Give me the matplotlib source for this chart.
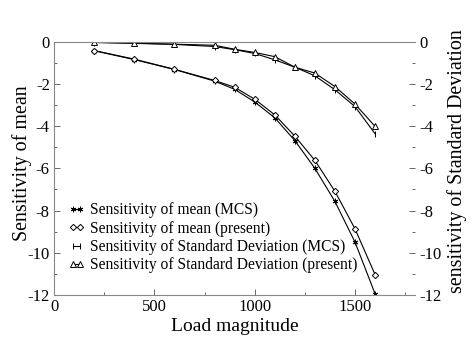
import matplotlib.pyplot as plt
import numpy as np

plt.rcParams['font.family'] = ['Liberation Serif', 'DejaVu Serif']
plt.rcParams['axes.unicode_minus'] = False

load_mean = [200, 400, 600, 800, 900, 1000, 1100, 1200, 1300, 1400, 1500, 1600]
mean_mcs = [-0.42, -0.84, -1.31, -1.86, -2.25, -2.85, -3.6, -4.68, -6.0, -7.57, -9.5, -11.95]
mean_present = [-0.41, -0.82, -1.3, -1.83, -2.15, -2.72, -3.46, -4.47, -5.62, -7.09, -8.87, -11.04]

load_std = [200, 400, 600, 800, 900, 1000, 1100, 1200, 1300, 1400, 1500, 1600]
std_mcs = [-0.03, -0.07, -0.12, -0.22, -0.37, -0.55, -0.85, -1.2, -1.61, -2.27, -3.07, -4.36]
std_present = [-0.02, -0.06, -0.11, -0.16, -0.35, -0.5, -0.7, -1.2, -1.48, -2.12, -2.95, -4.01]

fig = plt.figure(figsize=(4.74, 3.49), dpi=100)
ax = fig.add_axes([0.114, 0.155, 0.762, 0.725])
ax2 = ax.twinx()

lw = 0.8
ax.plot(load_mean, mean_mcs, color='black', lw=lw, marker=(6, 2, 0), ms=4, mew=0.7,
        label='Sensitivity of mean (MCS)')
ax.plot(load_mean, mean_present, color='black', lw=lw, marker='D', ms=3.2, mfc='white', mew=0.7,
        label='Sensitivity of mean (present)')
ax.plot(load_std, std_mcs, color='black', lw=lw, marker='|', ms=4, mew=0.7,
        label='Sensitivity of Standard Deviation (MCS)')
ax.plot(load_std, std_present, color='black', lw=lw, marker='^', ms=4, mfc='white', mew=0.7,
        label='Sensitivity of Standard Deviation (present)')

ax.set_xlim(0, 1800)
ax.set_ylim(-12, 0)
ax.set_xticks([0, 500, 1000, 1500])
ax.set_xticks([250, 750, 1250, 1750], minor=True)
ax.set_yticks(np.arange(-12, 1, 2))
ax.set_yticks(np.arange(-11, 0, 2), minor=True)

for s in ['left', 'top', 'bottom']:
    ax.spines[s].set_color('#888888')
ax.spines['right'].set_visible(False)

ax.tick_params(direction='in', length=4, width=0.7, color='#666666', labelsize=12,
               left=True, right=True, labelleft=True, labelright=True, pad=3)
ax.tick_params(which='minor', direction='in', length=2, width=0.7, color='#666666',
               left=True, right=True)

ax.set_xlabel('Load magnitude', fontsize=14, labelpad=2)
ax.set_ylabel('Sensitivity of mean', fontsize=14.4)
ax.yaxis.set_label_coords(-0.06, 0.52)

ax2.set_ylim(-12, 0)
ax2.set_yticks([])
for s in ax2.spines.values():
    s.set_visible(False)
ax2.set_ylabel('sensitivity of Standard Deviation', fontsize=14.4)
ax2.yaxis.set_label_coords(1.088, 0.53)

ax.legend(loc='lower left', bbox_to_anchor=(0.0, 0.03), frameon=False, fontsize=11.2,
          handlelength=1.1, handletextpad=0.3, labelspacing=0.15, numpoints=2)

plt.savefig('out.png', dpi=100)
plt.close()
